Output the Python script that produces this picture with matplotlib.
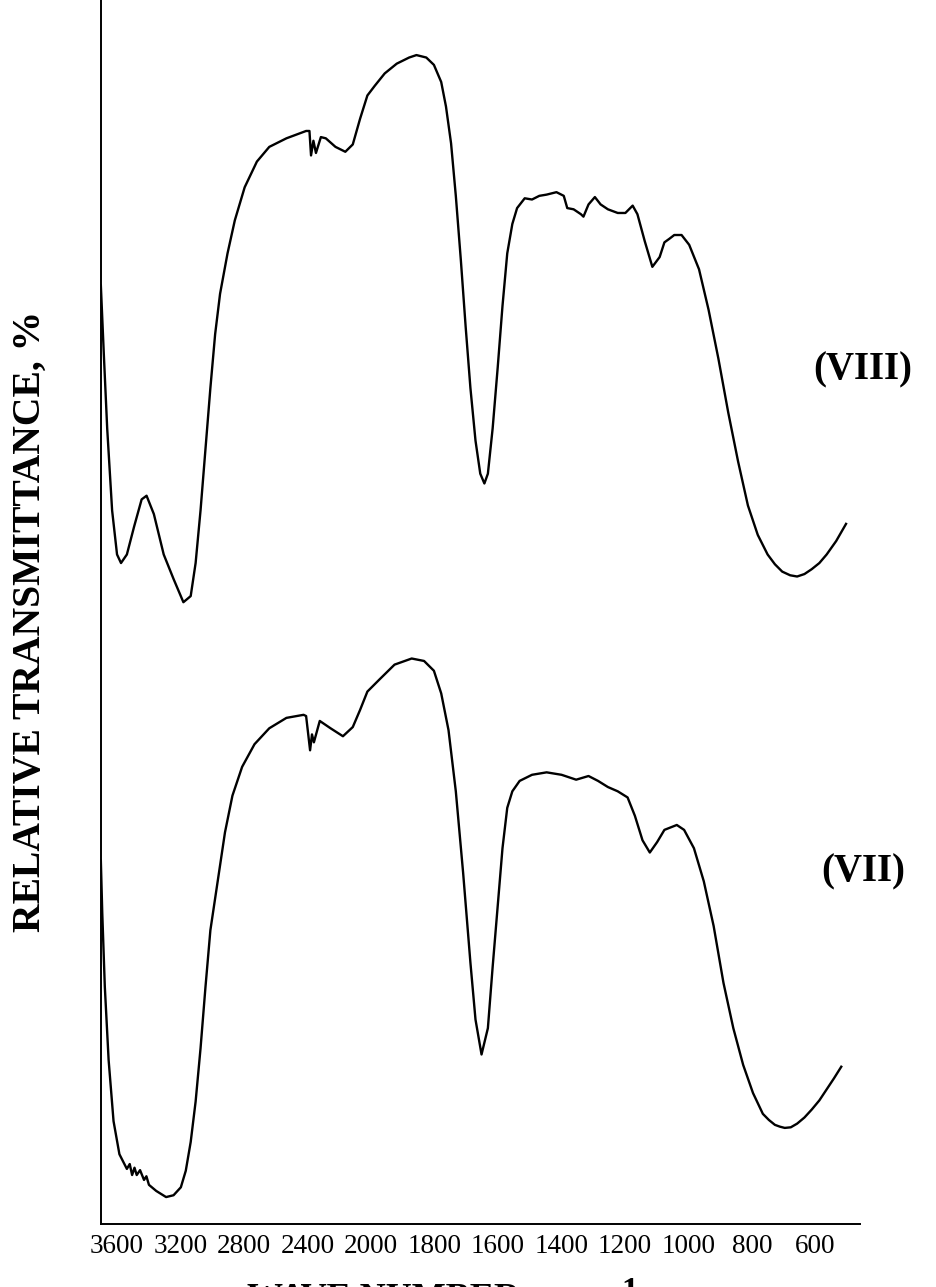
import numpy as np
import matplotlib
matplotlib.use("Agg")
import matplotlib.pyplot as plt

# IR spectra, wavenumber (cm-1) vs relative transmittance (arbitrary units)
wn_viii = [3702, 3683, 3662, 3631, 3600, 3575, 3538, 3492, 3445, 3414, 3368, 3306, 3244, 3182,
           3136, 3105, 3074, 3043, 3012, 2982, 2951, 2904, 2858, 2796, 2719, 2641, 2533, 2409,
           2388, 2378, 2363, 2347, 2316, 2285, 2224, 2162, 2115, 2069, 2023, 1988, 1957, 1919,
           1880, 1857, 1826, 1802, 1779, 1764, 1748, 1733, 1717, 1702, 1687, 1671, 1656, 1643,
           1632, 1617, 1601, 1586, 1571, 1555, 1540, 1516, 1493, 1470, 1447, 1416, 1393, 1382,
           1362, 1339, 1331, 1315, 1295, 1277, 1254, 1223, 1199, 1176, 1161, 1138, 1114, 1091,
           1076, 1060, 1045, 1022, 998, 967, 937, 906, 875, 844, 813, 782, 751, 728, 705, 680,
           658, 635, 612, 588, 565, 535, 504]
t_viii = [76.7, 71.0, 65.0, 58.3, 54.7, 54.0, 54.7, 57.0, 59.2, 59.5, 58.0, 54.7, 52.7, 50.8,
          51.3, 54.0, 58.3, 63.3, 68.3, 72.7, 76.0, 79.3, 82.0, 84.7, 86.8, 88.0, 88.7, 89.3,
          89.3, 87.3, 88.5, 87.5, 88.8, 88.7, 88.0, 87.6, 88.2, 90.3, 92.2, 93.0, 94.0, 94.8,
          95.3, 95.5, 95.3, 94.7, 93.3, 91.3, 88.3, 84.0, 78.7, 73.3, 68.3, 64.0, 61.3, 60.5,
          61.3, 65.0, 70.0, 75.0, 79.3, 81.7, 83.0, 83.8, 83.7, 84.0, 84.1, 84.3, 84.0, 83.0,
          82.9, 82.5, 82.3, 83.3, 83.9, 83.3, 82.9, 82.6, 82.6, 83.2, 82.5, 80.3, 78.2, 79.0,
          80.2, 80.5, 80.8, 80.8, 80.0, 78.0, 74.7, 70.7, 66.3, 62.3, 58.7, 56.3, 54.7, 53.9,
          53.3, 53.0, 52.9, 53.1, 53.5, 54.0, 54.7, 55.8, 57.2]

wn_vii = [3702, 3693, 3677, 3653, 3622, 3585, 3538, 3520, 3505, 3490, 3476, 3455, 3430, 3415,
          3399, 3353, 3291, 3244, 3198, 3167, 3136, 3105, 3074, 3043, 3012, 2966, 2920, 2873,
          2812, 2734, 2641, 2533, 2425, 2409, 2384, 2372, 2360, 2323, 2255, 2177, 2115, 2069,
          2023, 1973, 1926, 1872, 1833, 1802, 1779, 1756, 1733, 1710, 1687, 1671, 1652, 1632,
          1617, 1601, 1586, 1571, 1555, 1532, 1493, 1447, 1400, 1354, 1315, 1285, 1254, 1223,
          1192, 1169, 1145, 1122, 1099, 1076, 1037, 1014, 983, 952, 921, 890, 859, 828, 797,
          766, 747, 728, 712, 697, 678, 658, 635, 612, 588, 565, 542, 519]
t_vii = [29.7, 25.4, 19.4, 13.4, 8.4, 5.7, 4.5, 4.9, 4.0, 4.6, 4.0, 4.4, 3.6, 3.9,
         3.2, 2.7, 2.2, 2.35, 3.0, 4.35, 6.7, 10.0, 14.35, 19.35, 24.0, 28.0, 32.0, 35.0,
         37.35, 39.2, 40.5, 41.35, 41.6, 41.5, 38.7, 40.0, 39.35, 41.1, 40.5, 39.85, 40.6, 42.0,
         43.5, 44.5, 45.7, 46.2, 46.0, 45.2, 43.35, 40.35, 35.35, 28.7, 21.35, 16.7, 13.85, 16.0,
         21.0, 26.0, 30.7, 34.0, 35.35, 36.2, 36.7, 36.9, 36.7, 36.3, 36.6, 36.2, 35.7, 35.35,
         34.85, 33.35, 31.35, 30.35, 31.2, 32.2, 32.6, 32.2, 30.7, 28.0, 24.35, 19.7, 16.0, 13.0,
         10.7, 9.0, 8.5, 8.1, 7.95, 7.85, 7.9, 8.2, 8.7, 9.35, 10.1, 11.0, 11.9, 12.85]

xticks = [3600, 3200, 2800, 2400, 2000, 1800, 1600, 1400, 1200, 1000, 800, 600]
labels = ["(VIII)", "(VII)"]

W, H = 937, 1287
SERIF = ["Liberation Serif", "DejaVu Serif"]


# the spectrometer halves its scale above 2000 cm-1
def fwd(w):
    w = np.asarray(w, dtype=float)
    return np.where(w > 2000, 2000 + (w - 2000) / 2, w)


def inv(v):
    v = np.asarray(v, dtype=float)
    return np.where(v > 2000, 2000 + 2 * (v - 2000), v)


fig = plt.figure(figsize=(W / 100, H / 100), dpi=100)
ax = fig.add_axes([101 / W, 1 - 1224 / H, 759 / W, 1224 / H])
ax.set_xscale("function", functions=(fwd, inv))
for wn, t in ((wn_viii, t_viii), (wn_vii, t_vii)):
    ax.plot(wn, t, color="black", lw=1.7, solid_joinstyle="round")
ax.set_xlim(3701, 460)
ax.set_ylim(0, 100)

ax.set_xticks(xticks)
ax.set_xticklabels([str(t) for t in xticks], family=SERIF, fontsize=19.5)
ax.xaxis.set_minor_locator(matplotlib.ticker.NullLocator())
ax.tick_params(axis="x", length=0, pad=7)
ax.set_yticks([])
for s in ("top", "right"):
    ax.spines[s].set_visible(False)
for s in ("left", "bottom"):
    ax.spines[s].set_linewidth(1.4)

fig.text(30 / W, 1 - 621 / H, "RELATIVE TRANSMITTANCE, %", rotation=90, ha="center",
         va="center", family=SERIF, fontweight="bold", fontsize=28.5)
fig.text(863 / W, 1 - 370 / H, labels[0], ha="center", va="center", family=SERIF,
         fontweight="bold", fontsize=28)
fig.text(863 / W, 1 - 872 / H, labels[1], ha="center", va="center", family=SERIF,
         fontweight="bold", fontsize=28)
# x label sits mostly below the bottom edge of the picture
fig.text(247 / W, 1 - 1282 / H, "WAVE NUMBER, cm", ha="left", va="top", family=SERIF,
         fontweight="bold", fontsize=26)
fig.text(603 / W, 1 - 1276 / H, "\u22121", ha="left", va="top", family=SERIF,
         fontweight="bold", fontsize=24)

fig.savefig("out.png", dpi=100, facecolor="white")
